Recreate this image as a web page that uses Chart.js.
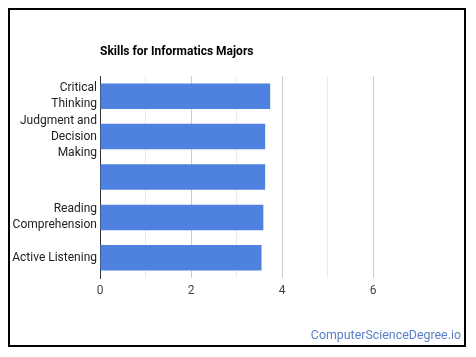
<!DOCTYPE html>
<html>
<head>
<meta charset="utf-8">
<script src="https://cdn.jsdelivr.net/npm/chart.js@4/dist/chart.umd.min.js"></script>
<style>
  html, body { margin: 0; padding: 0; background: #fff; }
  #wrap { position: relative; width: 476px; height: 357px; }
  #c { position: absolute; left: 0; top: 0; }
  #frame { position: absolute; left: 8px; top: 8px; width: 458px; height: 339px; border: 2px solid #000; box-sizing: border-box; pointer-events: none; }
  #mark { position: absolute; right: 15px; top: 327px; font: 12.4px Roboto, sans-serif; color: #5b80c8; }
</style>
</head>
<body>
<div id="wrap">
  <canvas id="c" width="476" height="357"></canvas>
  <div id="frame"></div>
  <div id="mark">ComputerScienceDegree.io</div>
</div>
<script>
const title = "Skills for Informatics Majors";
const categories = [["Critical", "Thinking"], ["Judgment and", "Decision", "Making"], "", ["Reading", "Comprehension"], "Active Listening"];
const values = [3.74, 3.63, 3.63, 3.59, 3.55];
const xTicks = [0, 2, 4, 6];
const xMax = 8;
const xLastGrid = 6;

new Chart(document.getElementById("c"), {
  type: "bar",
  data: {
    labels: categories,
    datasets: [{
      label: "Importance",
      data: values,
      backgroundColor: "#4f81e1",
      borderWidth: 0,
      barPercentage: 0.63,
      categoryPercentage: 1
    }]
  },
  options: {
    indexAxis: "y",
    responsive: false,
    animation: false,
    layout: { padding: { left: 0, right: 12, top: 0, bottom: 0 } },
    plugins: {
      legend: { display: false },
      tooltip: { enabled: false },
      title: {
        display: true,
        text: title,
        align: "start",
        fullSize: false,
        color: "#000",
        font: { family: "Roboto", size: 12, weight: "bold" },
        padding: { top: 45, bottom: 16.6 }
      }
    },
    scales: {
      x: {
        min: 0,
        max: xMax,
        afterFit: s => { s.height = 79; },
        border: { display: false },
        grid: {
          drawTicks: false,
          color: ctx => {
            const v = ctx.tick ? ctx.tick.value : 0;
            if (v === 0 || v > xLastGrid) return "rgba(0,0,0,0)";
            return v % 2 === 0 ? "#cccccc" : "#ebebeb";
          }
        },
        ticks: {
          stepSize: 1,
          padding: 6,
          color: "#444",
          font: { family: "Roboto", size: 12 },
          autoSkip: false,
          callback: v => xTicks.includes(v) ? String(v) : ""
        }
      },
      y: {
        afterFit: s => { s.width = 100; },
        border: { display: true, color: "#333", width: 1 },
        grid: { display: false, drawTicks: false },
        ticks: {
          autoSkip: false,
          padding: 3,
          color: "#222",
          font: { family: "Roboto", size: 12, lineHeight: 1.34 }
        }
      }
    }
  }
});
</script>
</body>
</html>
